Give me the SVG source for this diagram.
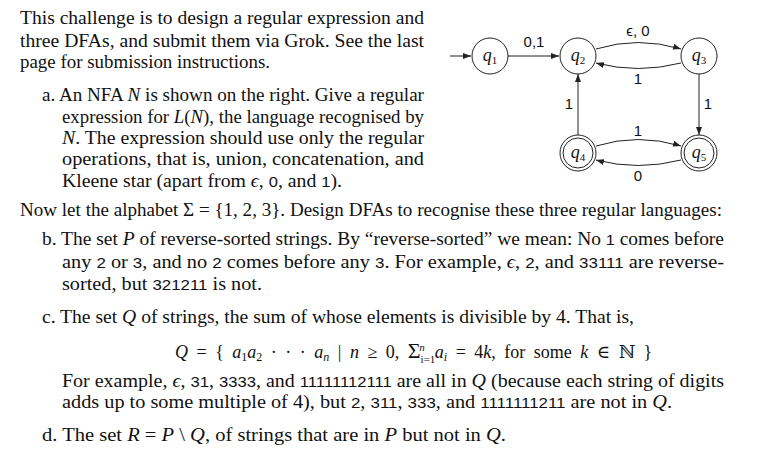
<svg xmlns="http://www.w3.org/2000/svg" width="774" height="464" viewBox="0 0 774 464">
<style>
text{font-family:"Liberation Serif","DejaVu Serif",serif;font-size:18px;fill:#111}
.s{font-family:"Liberation Sans","DejaVu Sans",sans-serif;font-size:15px}
.m{font-style:italic}
.n circle{fill:#fff;stroke:#222;stroke-width:1}
.e{fill:none;stroke:#222;stroke-width:1;marker-end:url(#a)}
</style>
<defs><marker id="a" viewBox="0 0 8 6" refX="8" refY="3" markerWidth="8" markerHeight="6" orient="auto"><path d="M0,0L8,3L0,6z" fill="#222"/></marker></defs>
<rect width="774" height="464" fill="#fff"/>
<g>
<text x="20" y="24" textLength="404" lengthAdjust="spacingAndGlyphs">This challenge is to design a regular expression and</text>
<text x="20" y="47" textLength="404" lengthAdjust="spacingAndGlyphs">three DFAs, and submit them via Grok. See the last</text>
<text x="20" y="68" textLength="250" lengthAdjust="spacingAndGlyphs">page for submission instructions.</text>
<text x="42" y="101" textLength="382" lengthAdjust="spacingAndGlyphs">a. An NFA <tspan class="m">N</tspan> is shown on the right. Give a regular</text>
<text x="62" y="123" textLength="362" lengthAdjust="spacingAndGlyphs">expression for <tspan class="m">L</tspan>(<tspan class="m">N</tspan>), the language recognised by</text>
<text x="62" y="144" textLength="362" lengthAdjust="spacingAndGlyphs"><tspan class="m">N</tspan>. The expression should use only the regular</text>
<text x="62" y="165" textLength="362" lengthAdjust="spacingAndGlyphs">operations, that is, union, concatenation, and</text>
<text x="62" y="187" textLength="280" lengthAdjust="spacingAndGlyphs">Kleene star (apart from <tspan class="m">ϵ</tspan>, <tspan class="s">0</tspan>, and <tspan class="s">1</tspan>).</text>
<text x="20" y="216" textLength="702" lengthAdjust="spacingAndGlyphs">Now let the alphabet Σ = {1, 2, 3}. Design DFAs to recognise these three regular languages:</text>
<text x="42" y="245" textLength="682" lengthAdjust="spacingAndGlyphs">b. The set <tspan class="m">P</tspan> of reverse-sorted strings. By “reverse-sorted” we mean: No <tspan class="s">1</tspan> comes before</text>
<text x="62" y="268" textLength="662" lengthAdjust="spacingAndGlyphs">any <tspan class="s">2</tspan> or <tspan class="s">3</tspan>, and no <tspan class="s">2</tspan> comes before any <tspan class="s">3</tspan>. For example, <tspan class="m">ϵ</tspan>, <tspan class="s">2</tspan>, and <tspan class="s">33111</tspan> are reverse-</text>
<text x="62" y="290" textLength="200" lengthAdjust="spacingAndGlyphs">sorted, but <tspan class="s">321211</tspan> is not.</text>
<text x="42" y="323" textLength="592" lengthAdjust="spacingAndGlyphs">c. The set <tspan class="m">Q</tspan> of strings, the sum of whose elements is divisible by 4. That is,</text>
<text x="175" y="358" word-spacing="4"><tspan class="m">Q</tspan> = {  <tspan class="m">a</tspan><tspan font-size="12" dy="3">1</tspan><tspan class="m" dy="-3">a</tspan><tspan font-size="12" dy="3">2</tspan><tspan dy="-3"> · · · </tspan><tspan class="m">a</tspan><tspan font-size="12" dy="3" class="m">n</tspan><tspan dy="-3"> | </tspan><tspan class="m">n</tspan> ≥ 0, <tspan font-size="22">Σ</tspan><tspan font-size="11" dy="5">i=1</tspan><tspan font-size="11" dy="-12" dx="-16" class="m">n</tspan><tspan dy="7" dx="10" class="m">a</tspan><tspan font-size="12" dy="3" class="m">i</tspan><tspan dy="-3"> = 4</tspan><tspan class="m">k</tspan>, for some <tspan class="m">k</tspan> ∈ ℕ    }</text>
<text x="62" y="387" textLength="662" lengthAdjust="spacingAndGlyphs">For example, <tspan class="m">ϵ</tspan>, <tspan class="s">31</tspan>, <tspan class="s">3333</tspan>, and <tspan class="s">11111112111</tspan> are all in <tspan class="m">Q</tspan> (because each string of digits</text>
<text x="62" y="408" textLength="610" lengthAdjust="spacingAndGlyphs">adds up to some multiple of 4), but <tspan class="s">2</tspan>, <tspan class="s">311</tspan>, <tspan class="s">333</tspan>, and <tspan class="s">1111111211</tspan> are not in <tspan class="m">Q</tspan>.</text>
<text x="42" y="441" textLength="464" lengthAdjust="spacingAndGlyphs">d. The set <tspan class="m">R</tspan> = <tspan class="m">P</tspan> \ <tspan class="m">Q</tspan>, of strings that are in <tspan class="m">P</tspan> but not in <tspan class="m">Q</tspan>.</text>
</g>
<g id="connectors">
<path class="e" d="M450,56H471"/>
<path class="e" d="M508,56H559"/>
<path class="e" d="M596,49Q638,36 681,49"/>
<path class="e" d="M681,63Q638,74 596,63"/>
<path class="e" d="M699,74V135"/>
<path class="e" d="M578,135V74"/>
<path class="e" d="M596,146Q638,133 681,146"/>
<path class="e" d="M681,160Q638,171 596,160"/>
<text class="s" x="534" y="47" text-anchor="middle">0,1</text>
<text class="s" x="638" y="36" text-anchor="middle">ϵ, 0</text>
<text class="s" x="638" y="84" text-anchor="middle">1</text>
<text class="s" x="708" y="109" text-anchor="middle">1</text>
<text class="s" x="569" y="109" text-anchor="middle">1</text>
<text class="s" x="638" y="136" text-anchor="middle">1</text>
<text class="s" x="638" y="181" text-anchor="middle">0</text>
</g>
<g id="q1" class="n"><circle cx="490" cy="56" r="18"/><text x="490" y="61" text-anchor="middle" font-size="15"><tspan class="m">q</tspan><tspan font-size="11" dy="3">1</tspan></text></g>
<g id="q2" class="n"><circle cx="578" cy="56" r="18"/><text x="578" y="61" text-anchor="middle" font-size="15"><tspan class="m">q</tspan><tspan font-size="11" dy="3">2</tspan></text></g>
<g id="q3" class="n"><circle cx="699" cy="56" r="18"/><text x="699" y="61" text-anchor="middle" font-size="15"><tspan class="m">q</tspan><tspan font-size="11" dy="3">3</tspan></text></g>
<g id="q4" class="n"><circle cx="578" cy="153" r="18"/><circle cx="578" cy="153" r="15"/><text x="578" y="158" text-anchor="middle" font-size="15"><tspan class="m">q</tspan><tspan font-size="11" dy="3">4</tspan></text></g>
<g id="q5" class="n"><circle cx="699" cy="153" r="18"/><circle cx="699" cy="153" r="15"/><text x="699" y="158" text-anchor="middle" font-size="15"><tspan class="m">q</tspan><tspan font-size="11" dy="3">5</tspan></text></g>
</svg>
